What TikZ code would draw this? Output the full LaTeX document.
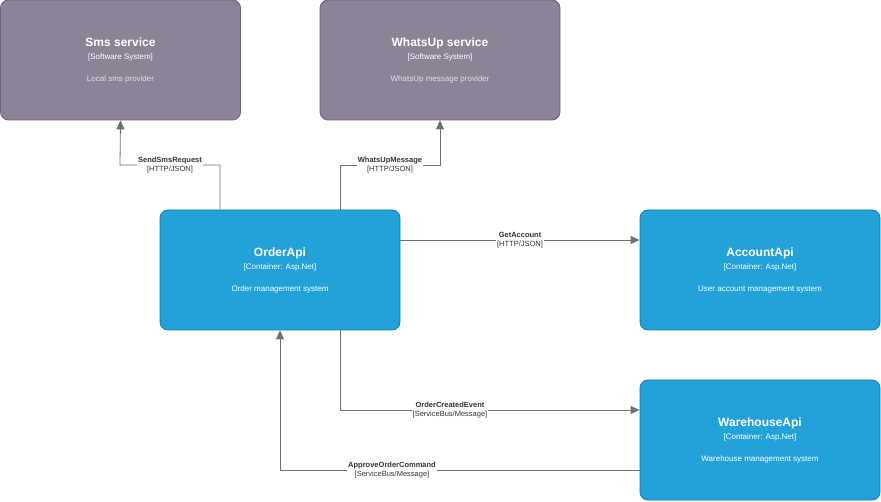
\documentclass[tikz,border=0pt]{standalone}
\usepackage{fontspec}
\setmainfont{Liberation Sans}
\usetikzlibrary{arrows.meta}
\definecolor{sysfill}{HTML}{8C8496}
\definecolor{sysline}{HTML}{6B6475}
\definecolor{apifill}{HTML}{23A2D9}
\definecolor{apiline}{HTML}{0E7DAD}
\definecolor{linkgray}{HTML}{707070}
\definecolor{desctext}{HTML}{E0E0E0}
\begin{document}
\begin{tikzpicture}[x=1pt,y=-1pt]
\tikzset{
  box/.style={rounded corners=8pt,minimum width=240pt,minimum height=120pt,inner sep=0pt,line width=0.8pt},
  sys/.style={box,fill=sysfill,draw=sysline},
  api/.style={box,fill=apifill,draw=apiline},
  link/.style={draw=linkgray,line width=0.8pt,-{Triangle[length=9pt,width=8pt]}},
  lbl/.style={fill=white,inner sep=1pt,align=center,font=\fontsize{7.5}{9}\selectfont,text=black!80}
}
\newcommand{\boxtext}[3]{{\fontsize{12}{14}\selectfont\bfseries #1}\\[1pt]{\fontsize{8}{10}\selectfont #2}\\[10pt]{\fontsize{8}{10}\selectfont #3}}
\useasboundingbox (0,0) rectangle (881,502);
\node[sys,text=white,align=center] (sms) at (120.5,60) {\boxtext{Sms service}{[Software System]}{\textcolor{desctext}{Local sms provider}}};
\node[sys,text=white,align=center] (whats) at (440,60) {\boxtext{WhatsUp service}{[Software System]}{\textcolor{desctext}{WhatsUp message provider}}};
\node[api,text=white,align=center] (order) at (280,270) {\boxtext{OrderApi}{[Container: Asp.Net]}{Order management system}};
\node[api,text=white,align=center] (account) at (760,270) {\boxtext{AccountApi}{[Container: Asp.Net]}{User account management system}};
\node[api,text=white,align=center] (ware) at (760,440) {\boxtext{WarehouseApi}{[Container: Asp.Net]}{Warehouse management system}};
% connectors
\draw[link] (order.north -| 220,0) |- (120,165) -- (sms.south);
\draw[link] (order.north -| 340,0) |- (440,165) -- (whats.south);
\draw[link] (order.east |- 0,240) -- (account.west |- 0,240);
\draw[link] (order.south -| 340,0) |- (ware.west |- 0,410);
\draw[link] (ware.west |- 0,470) -| (order.south -| 280,0);
% labels
\node[lbl] (l1) at (170,165) {\textbf{SendSmsRequest}\\{[HTTP/JSON]}};
\node[lbl] (l2) at (390,165) {\textbf{WhatsUpMessage}\\{[HTTP/JSON]}};
\node[lbl] (l3) at (520,240) {\textbf{GetAccount}\\{[HTTP/JSON]}};
\node[lbl] (l4) at (450,410) {\textbf{OrderCreatedEvent}\\{[ServiceBus/Message]}};
\node[lbl] (l5) at (392,470) {\textbf{ApproveOrderCommand}\\{[ServiceBus/Message]}};
\end{tikzpicture}
\end{document}
